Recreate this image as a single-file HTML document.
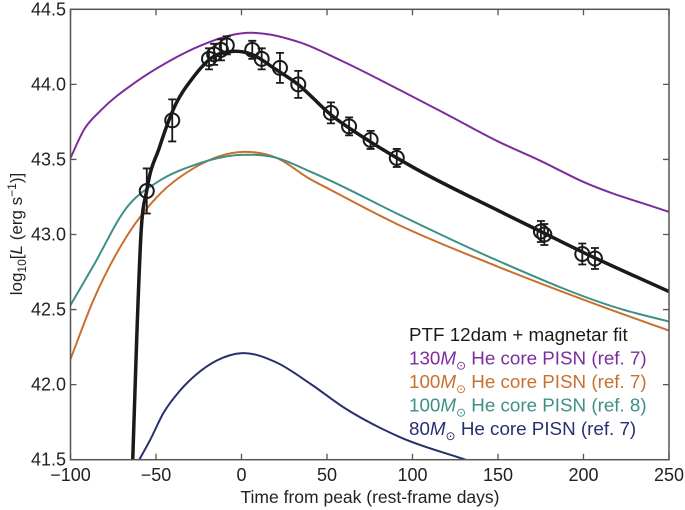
<!DOCTYPE html>
<html><head><meta charset="utf-8"><style>
html,body{margin:0;padding:0;background:#fff;}
svg{display:block;font-family:"Liberation Sans",sans-serif;}
</style></head><body>
<svg id="chart" width="685" height="510" viewBox="0 0 685 510">
<g id="curves"></g>
<g id="points"></g>
<rect x="70.5" y="9.3" width="598.5" height="450.4" fill="none" stroke="#555" stroke-width="1.5"/>
<g id="ticks"></g>
<text x="370" y="503" font-size="17.5" text-anchor="middle" fill="#222">Time from peak (rest-frame days)</text>
<text transform="translate(22,234) rotate(-90)" font-size="17" text-anchor="middle" fill="#222">log<tspan font-size="12" dy="4">10</tspan><tspan dy="-4">[</tspan><tspan font-style="italic">L</tspan> (erg s<tspan font-size="12" dy="-6">−1</tspan><tspan dy="6">)]</tspan></text>
<g font-size="18.8">
<text x="409" y="341" fill="#1a1a1a">PTF 12dam + magnetar fit</text>
<text x="409" y="364.5" fill="#7b2d9e">130<tspan font-style="italic">M</tspan><tspan font-size="12" dy="5">⊙</tspan><tspan dy="-5"> He core PISN (ref. 7)</tspan></text>
<text x="409" y="388" fill="#c8702e">100<tspan font-style="italic">M</tspan><tspan font-size="12" dy="5">⊙</tspan><tspan dy="-5"> He core PISN (ref. 7)</tspan></text>
<text x="409" y="411.5" fill="#3e8f88">100<tspan font-style="italic">M</tspan><tspan font-size="12" dy="5">⊙</tspan><tspan dy="-5"> He core PISN (ref. 8)</tspan></text>
<text x="409" y="435" fill="#27306e">80<tspan font-style="italic">M</tspan><tspan font-size="12" dy="5">⊙</tspan><tspan dy="-5"> He core PISN (ref. 7)</tspan></text>
</g>
</svg>
<script>
const xTicks = [-100,-50,0,50,100,150,200,250];
const yTicks = [41.5,42.0,42.5,43.0,43.5,44.0,44.5];
const purpleDays = [-100,-92,-82,-62.5,-43,-23.5,0,34,58,93,120,150,175,200,250];
const purpleL = [43.51,43.70,43.83,44.01,44.15,44.26,44.34,44.28,44.16,43.96,43.8,43.62,43.49,43.35,43.15];
const orangeDays = [-100,-86.7,-67,-47.7,-28.2,1,20.6,40,51.7,90.8,149,215.6,250];
const orangeL = [42.17,42.56,42.99,43.27,43.44,43.55,43.51,43.37,43.30,43.07,42.79,42.50,42.36];
const tealDays = [-100,-86.7,-67.1,-47.7,-28.2,-0.9,20.6,40,51.7,90.8,149,223,250];
const tealL = [42.53,42.79,43.18,43.36,43.46,43.53,43.51,43.42,43.36,43.14,42.83,42.50,42.42];
const navyDays = [-59.8,-53.5,-45.7,-36,-26.2,-14.6,0.5,20,41,59.5,92.7,131];
const navyL = [41.5,41.63,41.81,41.96,42.07,42.16,42.21,42.15,42.0,41.85,41.65,41.5];
const fitDays = [-63.6,-61.3,-58.8,-55.3,-48,-40,-28,-17,-5,6,20,33,52,75,100,150,175,200,250];
const fitL = [41.5,42.3,43.0,43.3,43.58,43.83,44.05,44.18,44.22,44.2,44.1,44.0,43.8,43.62,43.45,43.16,43.02,42.88,42.62];
const obsDays = [-55.4,-40.5,-19,-16,-12,-8.6,6.3,11.8,22.5,33.2,52.3,62.9,75.5,90.8,175.1,177.1,199.3,206.7];
const obsL = [43.29,43.76,44.17,44.20,44.23,44.26,44.23,44.17,44.11,44.00,43.81,43.72,43.63,43.51,43.02,43.00,42.87,42.84];
const obsErr = [0.15,0.14,0.07,0.07,0.07,0.06,0.06,0.07,0.10,0.09,0.07,0.06,0.06,0.06,0.07,0.07,0.07,0.07];

const X0=70.5,X1=669,Y0=459.7,Y1=9.3;
function sx(d){return X0+(d+100)/350*(X1-X0);}
function sy(l){return Y0-(l-41.5)/3*(Y0-Y1);}
const NS='http://www.w3.org/2000/svg';
function mk(tag,parent){const e=document.createElementNS(NS,tag);parent.appendChild(e);return e;}
function smooth(ds,ls){
  const n=ds.length,m=[];
  for(let i=0;i<n;i++){
    if(i===0) m.push((ls[1]-ls[0])/(ds[1]-ds[0]));
    else if(i===n-1) m.push((ls[n-1]-ls[n-2])/(ds[n-1]-ds[n-2]));
    else {
      const a=(ls[i]-ls[i-1])/(ds[i]-ds[i-1]),b=(ls[i+1]-ls[i])/(ds[i+1]-ds[i]);
      const w1=ds[i+1]-ds[i],w0=ds[i]-ds[i-1];
      m.push((a*w1+b*w0)/(w0+w1));
    }
  }
  let s='M'+sx(ds[0]).toFixed(2)+','+sy(ls[0]).toFixed(2);
  for(let i=0;i<n-1;i++){
    const h=(ds[i+1]-ds[i])/3;
    s+='C'+sx(ds[i]+h).toFixed(2)+','+sy(ls[i]+m[i]*h).toFixed(2)+' '+
      sx(ds[i+1]-h).toFixed(2)+','+sy(ls[i+1]-m[i+1]*h).toFixed(2)+' '+
      sx(ds[i+1]).toFixed(2)+','+sy(ls[i+1]).toFixed(2);
  }
  return s;
}
const curves=document.getElementById('curves');
const cp=mk('clipPath',curves);cp.setAttribute('id','clip');
const cr=mk('rect',cp);cr.setAttribute('x',X0);cr.setAttribute('y',Y1);cr.setAttribute('width',X1-X0);cr.setAttribute('height',Y0-Y1);
const series=[[purpleDays,purpleL,'#7b2d9e',2,'curve-130msun'],[orangeDays,orangeL,'#c8702e',2,'curve-100msun-ref7'],[tealDays,tealL,'#3e8f88',2,'curve-100msun-ref8'],[navyDays,navyL,'#27306e',2,'curve-80msun'],[fitDays,fitL,'#1a1a1a',3.5,'magnetar-fit-curve']];
series.forEach(s=>{
  const p=mk('path',curves);
  
  
  p.setAttribute('d',smooth(s[0],s[1]));
  p.setAttribute('fill','none');p.setAttribute('stroke',s[2]);p.setAttribute('stroke-width',s[3]);
  p.setAttribute('clip-path','url(#clip)');
});
const pts=document.getElementById('points');
obsDays.forEach((d,i)=>{
  const g=mk('g',pts);
  
  
  const x=sx(d),yt=sy(obsL[i]+obsErr[i]),yb=sy(obsL[i]-obsErr[i]),y=sy(obsL[i]);
  const path=mk('path',g);
  path.setAttribute('d',`M${x},${yt}V${yb}M${x-4},${yt}H${x+4}M${x-4},${yb}H${x+4}`);
  path.setAttribute('stroke','#1a1a1a');path.setAttribute('stroke-width','1.8');path.setAttribute('fill','none');
  const c=mk('circle',g);
  c.setAttribute('cx',x);c.setAttribute('cy',y);c.setAttribute('r',7);
  c.setAttribute('fill','none');c.setAttribute('stroke','#1a1a1a');c.setAttribute('stroke-width','2');
});
const tk=document.getElementById('ticks');
xTicks.forEach(t=>{
  const x=sx(t);
  const l=mk('path',tk);
  
  
  l.setAttribute('d',`M${x},${Y0}v-6M${x},${Y1}v6`);l.setAttribute('stroke','#555');l.setAttribute('stroke-width','1.3');
  const tx=mk('text',tk);
  
  
  tx.setAttribute('x',x);tx.setAttribute('y',481);tx.setAttribute('font-size','18');tx.setAttribute('text-anchor','middle');tx.setAttribute('fill','#222');
  tx.textContent=String(t).replace('-','−');
});
yTicks.forEach(t=>{
  const y=sy(t);
  const l=mk('path',tk);
  
  
  l.setAttribute('d',`M${X0},${y}h6M${X1},${y}h-6`);l.setAttribute('stroke','#555');l.setAttribute('stroke-width','1.3');
  const tx=mk('text',tk);
  
  
  tx.setAttribute('x',66);tx.setAttribute('y',y+6);tx.setAttribute('font-size','18');tx.setAttribute('text-anchor','end');tx.setAttribute('fill','#222');
  tx.textContent=t.toFixed(1);
});
</script>
</body></html>
